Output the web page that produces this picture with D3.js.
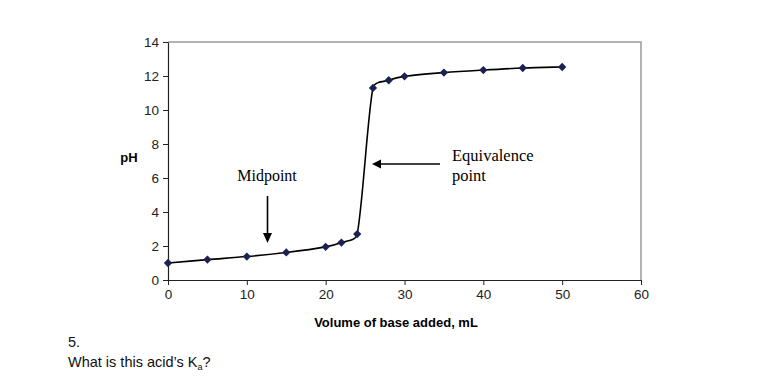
<!DOCTYPE html>
<html><head><meta charset="utf-8">
<script src="https://cdn.jsdelivr.net/npm/d3@7/dist/d3.min.js"></script>
<style>body{margin:0;background:#fff;}svg{display:block;}</style>
</head><body>
<svg id="c" width="760" height="379"></svg>
<script>
const volumes = [0, 5, 10, 15, 20, 22, 24, 26, 28, 30, 35, 40, 45, 50];
const phValues = [1.0, 1.2, 1.38, 1.62, 1.95, 2.2, 2.7, 11.3, 11.75, 11.98, 12.2, 12.35, 12.47, 12.53];
const xTicks = [0, 10, 20, 30, 40, 50, 60];
const yTicks = [0, 2, 4, 6, 8, 10, 12, 14];

const svg = d3.select("#c");
const L = 168, R = 641, T = 42, B = 280;
const x = d3.scaleLinear().domain([0, 60]).range([L, R]);
const y = d3.scaleLinear().domain([0, 14]).range([B, T]);

// Excel-like smoothed curve: cardinal tangents with arm length clamped to segment length
function smoothCurve(context) {
  let pts = [];
  return {
    areaStart(){}, areaEnd(){},
    lineStart(){ pts = []; },
    point(px, py){ pts.push([+px, +py]); },
    lineEnd(){
      const n = pts.length;
      if (!n) return;
      const tan = pts.map((p,i) => {
        const a = pts[Math.max(0,i-1)], b = pts[Math.min(n-1,i+1)];
        const dx = b[0]-a[0], dy = b[1]-a[1], len = Math.hypot(dx,dy) || 1;
        return [dx/len, dy/len, len/6];
      });
      context.moveTo(pts[0][0], pts[0][1]);
      for (let i = 0; i < n-1; i++) {
        const p = pts[i], q = pts[i+1];
        const d = Math.hypot(q[0]-p[0], q[1]-p[1]);
        const a1 = Math.min(tan[i][2], 0.4*d), a2 = Math.min(tan[i+1][2], 0.4*d);
        context.bezierCurveTo(p[0]+tan[i][0]*a1, p[1]+tan[i][1]*a1,
                              q[0]-tan[i+1][0]*a2, q[1]-tan[i+1][1]*a2, q[0], q[1]);
      }
    }
  };
}

svg.append("path").attr("d", `M${L},${T}H${R}V${B}`).attr("fill","none").attr("stroke","#9a9a9a").attr("stroke-width",1.5);

const xAxis = svg.append("g").attr("transform", `translate(0,${B})`)
  .call(d3.axisBottom(x).tickValues(xTicks).tickSize(5).tickSizeOuter(0).tickPadding(4));
const yAxis = svg.append("g").attr("transform", `translate(${L},0)`)
  .call(d3.axisLeft(y).tickValues(yTicks).tickSize(5).tickSizeOuter(0).tickPadding(4));
[xAxis, yAxis].forEach(a => {
  a.select(".domain").attr("stroke","#222").attr("stroke-width",1.2);
  a.selectAll(".tick line").attr("stroke","#222");
  a.selectAll("text").attr("font-family","Liberation Sans, Arial, sans-serif").attr("font-size",13.5).attr("fill","#222");
});

svg.append("text").attr("x",129).attr("y",162).attr("text-anchor","middle")
  .attr("font-family","Liberation Sans, Arial, sans-serif").attr("font-weight","bold").attr("font-size",13).text("pH");
svg.append("text").attr("x",396).attr("y",327).attr("text-anchor","middle")
  .attr("font-family","Liberation Sans, Arial, sans-serif").attr("font-weight","bold").attr("font-size",13).text("Volume of base added, mL");

const pts = volumes.map((v,i)=>[v, phValues[i]]);
const line = d3.line().x(d=>x(d[0])).y(d=>y(d[1])).curve(smoothCurve);
svg.append("path").datum(pts).attr("d", line).attr("fill","none").attr("stroke","#000").attr("stroke-width",1.6);

const sym = d3.symbol().type(d3.symbolDiamond2).size(44);
svg.selectAll(".m").data(pts).join("path").attr("class","m")
  .attr("transform", d=>`translate(${x(d[0])},${y(d[1])})`).attr("d", sym).attr("fill","#1b2150");

const serif = "Liberation Serif, Times New Roman, serif";
svg.append("text").attr("x",267).attr("y",181).attr("text-anchor","middle").attr("font-family",serif).attr("font-size",16).text("Midpoint");
svg.append("line").attr("x1",267.5).attr("y1",196).attr("x2",267.5).attr("y2",234).attr("stroke","#000").attr("stroke-width",1.6);
svg.append("path").attr("d","M263,233L272,233L267.5,243Z").attr("fill","#000");

svg.append("text").attr("x",452).attr("y",161).attr("font-family",serif).attr("font-size",16.5).text("Equivalence");
svg.append("text").attr("x",452).attr("y",181).attr("font-family",serif).attr("font-size",16.5).text("point");
svg.append("line").attr("x1",440).attr("y1",164).attr("x2",380).attr("y2",164).attr("stroke","#000").attr("stroke-width",1.6);
svg.append("path").attr("d","M381,159.5L381,168.5L372,164Z").attr("fill","#000");

const sans = "Liberation Sans, Arial, sans-serif";
svg.append("text").attr("x",68).attr("y",347).attr("font-family",sans).attr("font-size",14.5).attr("fill","#111").text("5.");
const q = svg.append("text").attr("x",68).attr("y",367).attr("font-family",sans).attr("font-size",14.5).attr("fill","#111");
q.append("tspan").text("What is this acid\u2019s K");
q.append("tspan").attr("font-size",9).attr("dy",3).text("a");
q.append("tspan").attr("dy",-3).text("?");
</script>
</body></html>
